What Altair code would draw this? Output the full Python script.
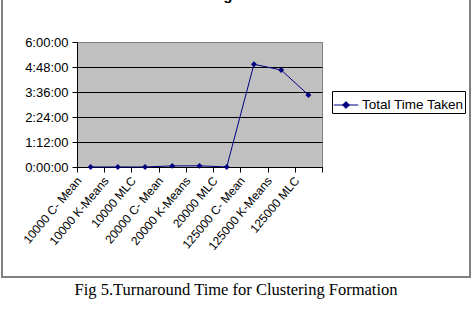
import altair as alt
import pandas as pd

categories = ["10000 C- Mean", "10000 K-Means", "10000 MLC",
              "20000 C- Mean", "20000 K-Means", "20000 MLC",
              "125000 C- Mean", "125000 K-Means", "125000 MLC"]
# seconds
total_time = [8, 6, 7, 190, 200, 10, 17750, 16760, 12450]
series_name = ["Total Time Taken"] * len(categories)
y_ticks = [0, 4320, 8640, 12960, 17280, 21600]
caption = "Fig 5.Turnaround Time for Clustering Formation"
chart_title = "Clustering Formation"

df = pd.DataFrame({"cat": categories, "t": total_time, "series": series_name})

time_fmt = ("floor(datum.value/3600) + ':' + pad(floor((datum.value%3600)/60), 2, '0', 'left')"
            " + ':' + pad(floor(datum.value%60), 2, '0', 'left')")

legend_sym = "M-1,0L1,0M0,-0.28L0.28,0L0,0.28L-0.28,0Z"

line = alt.Chart(df).mark_line(
    strokeWidth=1,
    point=alt.OverlayMarkDef(shape="diamond", filled=True, size=35, color="#000080"),
).encode(
    x=alt.X("cat:N", sort=categories, title=None,
            scale=alt.Scale(type="band", paddingInner=0, paddingOuter=0),
            axis=alt.Axis(labelAngle=-50, labelAlign="right", labelBaseline="middle",
                          labelFont="Liberation Sans", labelFontSize=12, labelColor="black",
                          labelOffset=-12, labelPadding=6, tickBand="extent",
                          tickSize=5, tickColor="black", domainColor="black",
                          grid=False, labelOverlap=False)),
    y=alt.Y("t:Q", title=None,
            scale=alt.Scale(domain=[0, 21600], nice=False),
            axis=alt.Axis(values=y_ticks, labelExpr=time_fmt,
                          labelFont="Liberation Sans", labelFontSize=13, labelColor="black",
                          labelPadding=4, tickSize=5, tickColor="black", domainColor="black",
                          grid=True,
                          gridColor={"condition": {"test": "datum.value >= 21600", "value": "#808080"},
                                     "value": "black"},
                          gridOpacity=1)),
    color=alt.Color("series:N", scale=alt.Scale(range=["#000080"]),
                    legend=alt.Legend(orient="none", legendX=255, legendY=49, title=None,
                                      strokeColor="black", fillColor="white", padding=1,
                                      symbolType=legend_sym, symbolSize=600,
                                      symbolStrokeWidth=1, symbolFillColor="#000080",
                                      labelFont="Liberation Sans", labelFontSize=13.5,
                                      labelColor="black", labelOffset=3, cornerRadius=0)),
)

frame = alt.Chart(pd.DataFrame({"a": [0]})).mark_rect(
    fillOpacity=0, stroke="#808080", strokeWidth=2
).encode(x=alt.value(-75), x2=alt.value(393), y=alt.value(-60), y2=alt.value(235))

cap = alt.Chart(pd.DataFrame({"txt": [caption]})).mark_text(
    font="Liberation Serif", fontSize=16.5, color="black", align="center", baseline="alphabetic"
).encode(text="txt:N", x=alt.value(159), y=alt.value(253))

ttl = alt.Chart(pd.DataFrame({"txt": [chart_title]})).mark_text(
    font="Liberation Sans", fontSize=15, fontWeight="bold", color="black",
    align="center", baseline="bottom"
).encode(text="txt:N", x=alt.value(157), y=alt.value(-39))

chart = alt.layer(frame, line, cap, ttl).properties(
    width=245, height=125,
    autosize=alt.AutoSizeParams(type="none"),
    padding={"left": 77, "top": 42, "right": 152, "bottom": 152},
    background="white",
).configure_view(fill="#C0C0C0", stroke="#808080", strokeWidth=1)

chart.save("out.html", embed_options={"renderer": "svg", "actions": False})
